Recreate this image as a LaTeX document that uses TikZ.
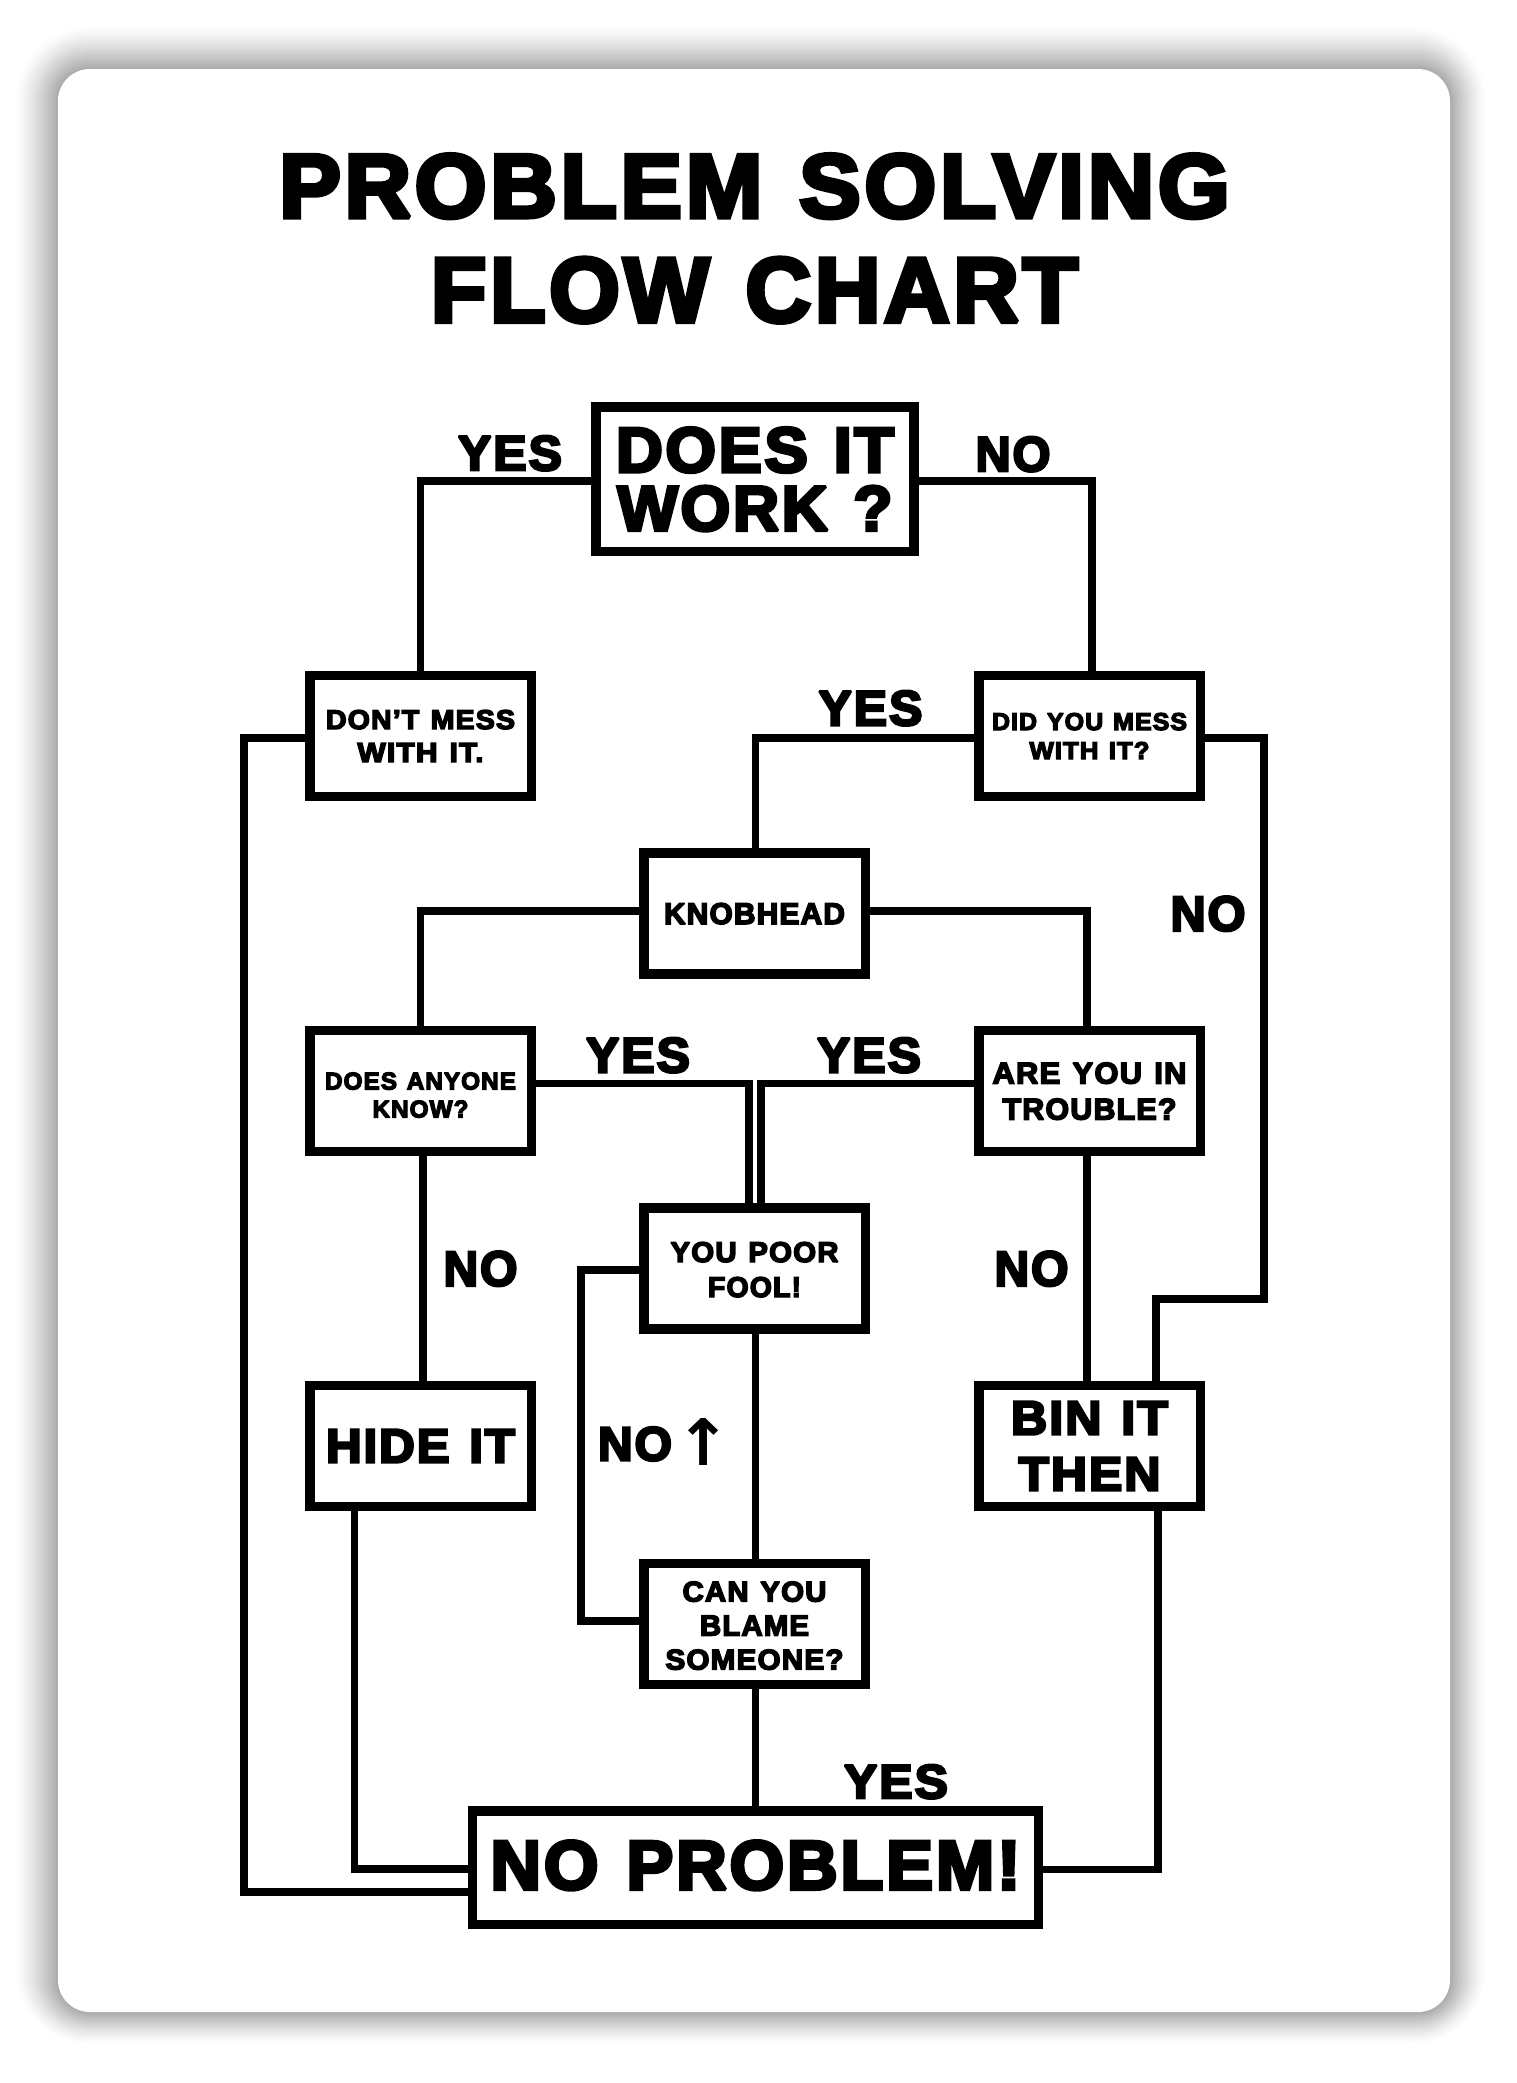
\documentclass[tikz,border=0pt]{standalone}
\usepackage{fontspec}
\usepackage{graphicx}
\newfontfamily\blk{Liberation Sans Bold}[FakeBold=5,LetterSpace=4,WordSpace=1.25]
\newfontfamily\arw{DejaVu Sans Bold}
\newcommand\Ln[3]{\raisebox{0pt}[#2pt][0pt]{\resizebox{#1pt}{#2pt}{\blk #3}}}
\newsavebox\arrowbox
\newcommand\UpArw{\sbox\arrowbox{\resizebox*{56pt}{47pt}{\arw ↑}}\raisebox{\dimexpr\dp\arrowbox-5pt\relax}[40pt][0pt]{\usebox\arrowbox}}
\tikzset{
  fbox/.style={draw=black,fill=white,line width=9.5pt,inner sep=0pt,outer sep=0pt,align=center,
    minimum width=221.5pt,minimum height=121pt},
  linegap/.style={execute at begin node={\lineskiplimit=1000pt\lineskip=#1pt}},
  conn/.style={draw=black,line width=7.5pt,line join=miter},
  lbl/.style={inner sep=0pt,outer sep=0pt,anchor=center}
}
\begin{document}
\begin{tikzpicture}[x=1pt,y=-1pt,miter limit=2]
\useasboundingbox (0,0) rectangle (1517,2083);
\fill[white] (0,0) rectangle (1517,2083);
% card shadow
\foreach \d in {44,42,...,0}{
  \pgfmathsetmacro\k{34*(1-\d/44)^1.3}
  \pgfmathsetmacro\rr{32+\d}
  \fill[black!\k!white,rounded corners=\rr pt] (58-\d,69-\d) rectangle (1450+0.85*\d,2012+0.75*\d);
}
\fill[white,rounded corners=32pt] (58,69) rectangle (1450,2012);

% title
\node[lbl,align=center,linegap=40.5] (title) at (754.5,238) {\Ln{950}{63}{PROBLEM SOLVING}\\\Ln{647}{64}{FLOW CHART}};

% boxes
\node[fbox,minimum width=318pt,minimum height=144.5pt,linegap=14] (top) at (755,479) {\Ln{278}{44.5}{DOES IT}\\\Ln{275}{44.5}{WORK ?}};
\node[fbox,linegap=14] (dm) at (420.5,736) {\Ln{189}{19}{DON’T MESS}\\\Ln{126}{19}{WITH IT.}};
\node[fbox,linegap=12] (dy) at (1089.5,736) {\Ln{195}{17}{DID YOU MESS}\\\Ln{120}{17}{WITH IT?}};
\node[fbox] (kn) at (754.5,913.5) {\Ln{181}{21}{KNOBHEAD}};
\node[fbox,linegap=11] (da) at (420.5,1091) {\raisebox{0pt}[25pt][0pt]{\Ln{191}{17}{DOES ANYONE}}\\\Ln{96}{17}{KNOW?}};
\node[fbox,linegap=15] (ar) at (1089.5,1091) {\Ln{194}{21}{ARE YOU IN}\\\Ln{174}{21}{TROUBLE?}};
\node[fbox,linegap=15] (yp) at (754.5,1268.5) {\raisebox{0pt}[22pt][0pt]{\Ln{168}{20}{YOU POOR}}\\\Ln{93}{20}{FOOL!}};
\node[fbox] (hi) at (420.5,1446) {\Ln{189}{33}{HIDE IT}};
\node[fbox,linegap=23] (bin) at (1089.5,1446) {\Ln{157}{33}{BIN IT}\\\Ln{142}{33}{THEN}};
\node[fbox,linegap=14] (cy) at (754.5,1624) {\raisebox{0pt}[23pt][0pt]{\Ln{144}{20}{CAN YOU}}\\\Ln{109}{20}{BLAME}\\\Ln{178}{20}{SOMEONE?}};
\node[fbox,minimum width=566pt,minimum height=113.5pt] (np) at (755.5,1867.5) {\raisebox{0pt}[48.5pt][5pt]{\Ln{530}{48.5}{NO PROBLEM!}}};

% helper bends
\coordinate (farL) at (244,1892);
\coordinate (loopL) at (581,1621);
\coordinate (bendR) at (1264,1299);

% connectors
\draw[conn] ([yshift=-2pt]top.west) -| (dm.north);
\draw[conn] ([yshift=-2pt]top.east) -| ([xshift=2.5pt]dy.north);
\draw[conn] ([yshift=-2pt]dy.west) -| ([xshift=1pt]kn.north);
\draw[conn] ([yshift=-2pt]dy.east) -| (bendR) -| ([xshift=66.5pt]bin.north);
\draw[conn] ([yshift=-2pt]dm.west) -| (farL) -- (farL -| np.west);
\draw[conn] ([yshift=2.5pt]kn.west) -| (da.north);
\draw[conn] ([yshift=2.5pt]kn.east) -| ([xshift=-2.5pt]ar.north);
\draw[conn] ([yshift=7.5pt]da.east) -| ([xshift=-5.5pt]yp.north);
\draw[conn] ([yshift=7.5pt]ar.west) -| ([xshift=6.5pt]yp.north);
\draw[conn] ([xshift=2.5pt]da.south) -- ([xshift=2.5pt]hi.north);
\draw[conn] ([xshift=-2.5pt]ar.south) -- ([xshift=-2.5pt]bin.north);
\draw[conn] ([xshift=1pt]yp.south) -- ([xshift=1pt]cy.north);
\draw[conn] ([yshift=-1.5pt]yp.west) -| (loopL) -- (loopL -| cy.west);
\draw[conn] ([xshift=1pt]cy.south) -- (np.north);
\draw[conn] ([xshift=-66pt]hi.south) |- ([yshift=-1.5pt]np.west);
\draw[conn] ([xshift=68.5pt]bin.south) |- ([yshift=-2pt]np.east);

% labels
\node[lbl] (l1) at (510,453) {\Ln{104}{34.5}{YES}};
\node[lbl] (l2) at (1013,454) {\Ln{75}{34.5}{NO}};
\node[lbl] (l3) at (870.5,708) {\Ln{104}{34.5}{YES}};
\node[lbl] (l4) at (1208,913.5) {\Ln{75}{34.5}{NO}};
\node[lbl] (l5) at (638,1055) {\Ln{104}{34.5}{YES}};
\node[lbl] (l6) at (869,1055) {\Ln{104}{34.5}{YES}};
\node[lbl] (l7) at (480.5,1268.5) {\Ln{74}{34.5}{NO}};
\node[lbl] (l8) at (1031.5,1268.5) {\Ln{74}{34.5}{NO}};
\node[lbl] (l9) at (664.5,1440.5) {\Ln{74}{33.5}{NO}\hspace{3pt}\UpArw};
\node[lbl] (l10) at (896,1781.5) {\Ln{104}{33.5}{YES}};
\end{tikzpicture}
\end{document}
